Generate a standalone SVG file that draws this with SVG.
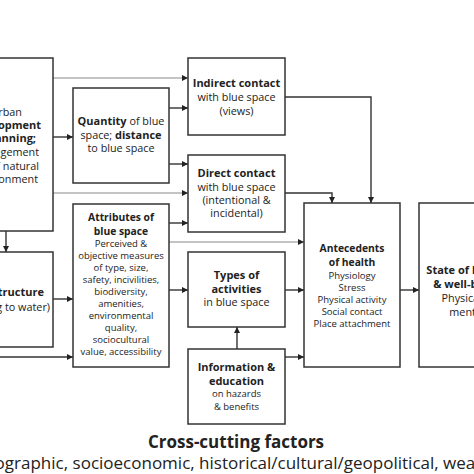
<svg xmlns="http://www.w3.org/2000/svg" width="474" height="474" viewBox="0 0 474 474">
<defs>
<style>
.box{fill:#fff;stroke:#333;stroke-width:1.5}
.c{fill:none;stroke:#333;stroke-width:1.4}
.g{fill:none;stroke:#8a8a8a;stroke-width:1.2}
text{font-family:"Open Sans","Noto Sans","DejaVu Sans",sans-serif;fill:#222;text-anchor:middle}
.b{font-weight:bold;font-size:10.3px}
.n{font-size:9.5px}
.s{font-size:9.5px}
.B{font-weight:bold;font-size:11px}
.N{font-size:10.8px}
.e{text-anchor:end}
</style>
<marker id="a" viewBox="0 0 8 8" refX="8" refY="4" markerWidth="6" markerHeight="6" markerUnits="userSpaceOnUse" orient="auto"><path d="M0,0 L8,4 L0,8 z" fill="#222"/></marker>
</defs>
<rect width="474" height="474" fill="#fff"/>
<g id="connectors">
<path class="g" d="M53,78 H188" marker-end="url(#a)"/>
<path class="c" d="M53,137 H73" marker-end="url(#a)"/>
<path class="c" d="M169,108 H188" marker-end="url(#a)"/>
<path class="c" d="M169,164 H188" marker-end="url(#a)"/>
<path class="g" d="M53,193 H188" marker-end="url(#a)"/>
<path class="c" d="M169,223 H188" marker-end="url(#a)"/>
<path class="g" d="M169,242 H304" marker-end="url(#a)"/>
<path class="c" d="M169,290 H188" marker-end="url(#a)"/>
<path class="c" d="M6,231 V252" marker-end="url(#a)"/>
<path class="c" d="M53,299 H73" marker-end="url(#a)"/>
<path class="c" d="M0,357 H73" marker-end="url(#a)"/>
<path class="c" d="M285,97 H371 V203" marker-end="url(#a)"/>
<path class="c" d="M285,193 H332 V203" stroke="#555" marker-end="url(#a)"/>
<path class="c" d="M285,290 H304" marker-end="url(#a)"/>
<path class="c" d="M237,349 V327" marker-end="url(#a)"/>
<path class="c" d="M285,357 H304" marker-end="url(#a)"/>
<path class="c" d="M400,290 H419" marker-end="url(#a)"/>
</g>
<g id="urban">
<rect class="box" x="-43" y="58" width="96" height="173"/>
<text class="N e" x="22" y="115.5">Urban</text>
<text class="B e" x="41" y="128.5">development</text>
<text class="B e" x="36" y="141.5">&amp; planning;</text>
<text class="N e" x="39" y="155.5">management</text>
<text class="N e" x="39" y="169.5">of natural</text>
<text class="N e" x="38" y="182.5">environment</text>
</g>
<g id="infrastructure">
<rect class="box" x="-43" y="252" width="96" height="95"/>
<text class="B e" x="44" y="295.5">Infrastructure</text>
<text class="N e" x="50" y="310.5">(relating to water)</text>
</g>
<g id="quantity">
<rect class="box" x="73" y="88" width="96" height="95"/>
<text x="121" y="124.5"><tspan class="B">Quantity</tspan><tspan class="N"> of blue</tspan></text>
<text x="121" y="138.5"><tspan class="N">space; </tspan><tspan class="B">distance</tspan></text>
<text class="N" x="121" y="151.5">to blue space</text>
</g>
<g id="attributes">
<rect class="box" x="73" y="204" width="96" height="163"/>
<text class="b" x="121" y="220.5">Attributes of</text>
<text class="b" x="121" y="234.5">blue space</text>
<text class="s" x="121" y="246.5">Perceived &amp;</text>
<text class="s" x="121" y="258.5">objective measures</text>
<text class="s" x="121" y="270.5">of type, size,</text>
<text class="s" x="121" y="282.5">safety, incivilities,</text>
<text class="s" x="121" y="294.5">biodiversity,</text>
<text class="s" x="121" y="306.5">amenities,</text>
<text class="s" x="121" y="318.5">environmental</text>
<text class="s" x="121" y="330.5">quality,</text>
<text class="s" x="121" y="342.5">sociocultural</text>
<text class="s" x="121" y="354.5">value, accessibility</text>
</g>
<g id="indirect">
<rect class="box" x="188" y="58" width="97" height="77"/>
<text class="B" x="236.5" y="86.5">Indirect contact</text>
<text class="N" x="236.5" y="100.5">with blue space</text>
<text class="N" x="236.5" y="114.5">(views)</text>
</g>
<g id="direct">
<rect class="box" x="188" y="155" width="97" height="77"/>
<text class="B" x="236.5" y="176.5">Direct contact</text>
<text class="N" x="236.5" y="190.5">with blue space</text>
<text class="N" x="236.5" y="203.5">(intentional &amp;</text>
<text class="N" x="236.5" y="216.5">incidental)</text>
</g>
<g id="types">
<rect class="box" x="188" y="252" width="97" height="75"/>
<text class="B" x="236.5" y="278.5">Types of</text>
<text class="B" x="236.5" y="292.5">activities</text>
<text class="N" x="236.5" y="305.5">in blue space</text>
</g>
<g id="information">
<rect class="box" x="188" y="349" width="97" height="75"/>
<text class="B" x="236.5" y="370.5">Information &amp;</text>
<text class="B" x="236.5" y="384.5">education</text>
<text class="s" x="236.5" y="396.5">on hazards</text>
<text class="s" x="236.5" y="409.5">&amp; benefits</text>
</g>
<g id="antecedents">
<rect class="box" x="304" y="203" width="96" height="164"/>
<text class="b" x="352" y="251.5">Antecedents</text>
<text class="b" x="352" y="265.5">of health</text>
<text class="n" x="352" y="278.5">Physiology</text>
<text class="n" x="352" y="290.5">Stress</text>
<text class="n" x="352" y="302.5">Physical activity</text>
<text class="n" x="352" y="314.5">Social contact</text>
<text class="n" x="352" y="326.5">Place attachment</text>
</g>
<g id="state">
<rect class="box" x="419" y="203" width="96" height="164"/>
<text class="B" x="467" y="273.5">State of health</text>
<text class="B" x="467" y="287.5">&amp; well-being</text>
<text class="N" x="467" y="301.5">Physical &amp;</text>
<text class="N" x="467" y="315.5">mental</text>
</g>
<g id="crosscutting">
<text x="236" y="448" style="font-weight:bold;font-size:17px">Cross-cutting factors</text>
<text x="-43" y="469" style="font-size:17px;text-anchor:start">Demographic, socioeconomic, historical/cultural/geopolitical, weather/climate</text>
</g>
</svg>
